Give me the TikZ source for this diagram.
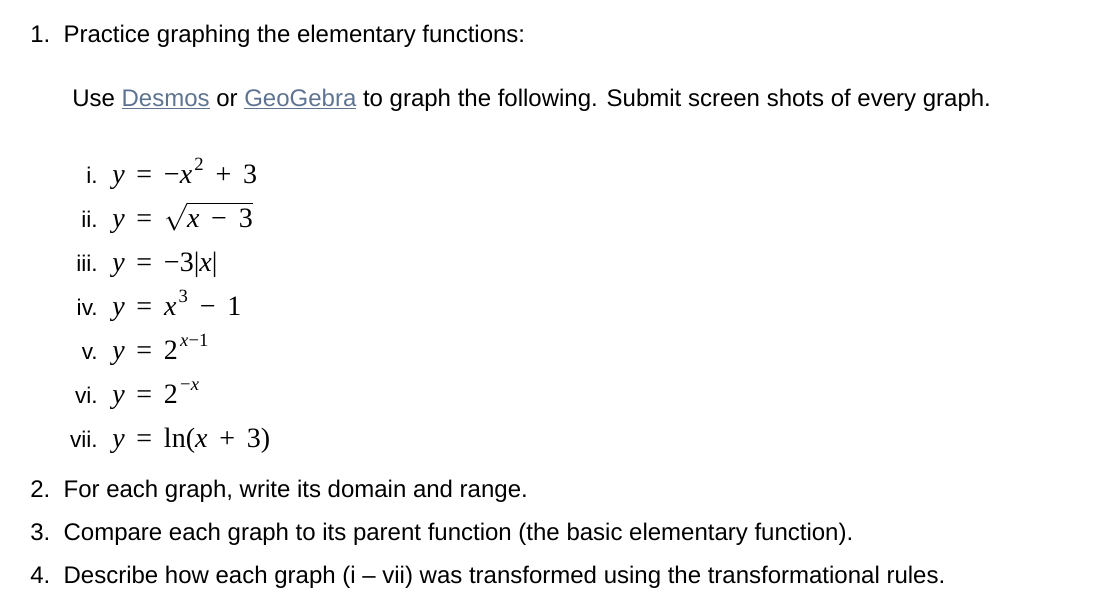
\documentclass[tikz,border=0pt]{standalone}
\usepackage{fontspec}
\setmainfont{Liberation Sans}
\newfontfamily\mf{Liberation Serif}
\definecolor{lnk}{HTML}{5E7391}
\newcommand{\lk}[1]{\textcolor{lnk}{\underline{#1}}}
\newcommand{\vi}[1]{{\itshape #1}}
\newcommand{\op}[1]{\hspace{0.42em}#1\hspace{0.42em}}
\newcommand{\mn}{\textminus}
\newcommand{\sps}[1]{\hspace{0.08em}\raisebox{0.45em}{\fontsize{14}{16}\selectfont #1}}
\begin{document}
\begin{tikzpicture}[x=0.75pt,y=-0.75pt,
  txt/.style={anchor=base west,inner sep=0pt,font=\fontsize{18}{21}\selectfont},
  num/.style={anchor=base east,inner sep=0pt,font=\fontsize{17}{21}\selectfont},
  eq/.style={anchor=base west,inner sep=0pt,font=\mf\fontsize{21}{24}\selectfont}]
\useasboundingbox (0,0) rectangle (1098,612);
\node[txt] (l1) at (30,42) {1.\ \ Practice graphing the elementary functions:};
\node[txt] (use) at (72,106) {Use \lk{Desmos} or \lk{GeoGebra} to graph the following. Submit screen shots of every graph.};
\node[num] (n1) at (98,183) {i.};
\node[num] (n2) at (98,227) {ii.};
\node[num] (n3) at (98,271) {iii.};
\node[num] (n4) at (98,315) {iv.};
\node[num] (n5) at (98,359) {v.};
\node[num] (n6) at (98,403) {vi.};
\node[num] (n7) at (98,447) {vii.};
\node[eq] (e1) at (112,183) {\vi{y}\op{=}\mn\vi{x}\sps{2}\op{+}3};
\node[eq] (e2) at (112,227) {\vi{y}\op{=}$\sqrt{\hbox{\mf\fontsize{21}{24}\selectfont\vi{x}\op{\mn}3}}$};
\node[eq] (e3) at (112,271) {\vi{y}\op{=}\mn3|\vi{x}|};
\node[eq] (e4) at (112,315) {\vi{y}\op{=}\vi{x}\sps{3}\op{\mn}1};
\node[eq] (e5) at (112,359) {\vi{y}\op{=}2\sps{\vi{x}\mn1}};
\node[eq] (e6) at (112,403) {\vi{y}\op{=}2\sps{\mn\vi{x}}};
\node[eq] (e7) at (112,447) {\vi{y}\op{=}ln(\vi{x}\op{+}3)};
\node[txt] (l2) at (30,497) {2.\ \ For each graph, write its domain and range.};
\node[txt] (l3) at (30,540) {3.\ \ Compare each graph to its parent function (the basic elementary function).};
\node[txt] (l4) at (30,583) {4.\ \ Describe how each graph (i -- vii) was transformed using the transformational rules.};
\end{tikzpicture}
\end{document}
